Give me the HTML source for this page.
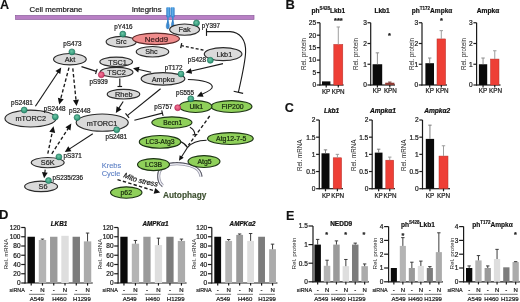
<!DOCTYPE html>
<html><head><meta charset="utf-8"><style>
html,body{margin:0;padding:0;background:#fff;width:520px;height:302px;overflow:hidden}
svg{display:block;font-family:'Liberation Sans', Arial, sans-serif}
</style></head><body>
<svg width="520" height="302" viewBox="0 0 520 302">
<defs><radialGradient id="gt" cx="0.45" cy="0.4" r="0.6"><stop offset="0" stop-color="#6cc7a6"/><stop offset="1" stop-color="#2a8f70"/></radialGradient>
<linearGradient id="gi" x1="0" x2="1" y1="0" y2="0"><stop offset="0" stop-color="#2c78c4"/><stop offset="0.5" stop-color="#5fb0ec"/><stop offset="1" stop-color="#2c78c4"/></linearGradient>
<radialGradient id="gp" cx="0.45" cy="0.4" r="0.6"><stop offset="0" stop-color="#f27a98"/><stop offset="1" stop-color="#d23a66"/></radialGradient></defs>
<rect width="520" height="302" fill="#ffffff"/>
<text x="0.00" y="9.30" font-size="12.6" text-anchor="start" font-weight="bold" font-style="normal" fill="#111" stroke="#111" stroke-width="0.1" >A</text>
<text x="29.60" y="12.20" font-size="7.8" text-anchor="start" font-weight="normal" font-style="normal" fill="#1c1c1c" stroke="#1c1c1c" stroke-width="0.22" >Cell membrane</text>
<text x="131.70" y="12.20" font-size="7.8" text-anchor="start" font-weight="normal" font-style="normal" fill="#1c1c1c" stroke="#1c1c1c" stroke-width="0.22" >Integrins</text>
<rect x="15.6" y="15.5" width="238.4" height="3.9" fill="#b87fc4" stroke="#8a5c9c" stroke-width="0.7"/>
<rect x="166.3" y="7.2" width="3.9" height="10.2" rx="0.9" fill="url(#gi)"/>
<rect x="170.6" y="7.2" width="4.0" height="10.2" rx="0.9" fill="url(#gi)"/>
<rect x="167.1" y="16" width="1.6" height="7" fill="#3a8ad2"/>
<rect x="172.0" y="16" width="1.6" height="7" fill="#3a8ad2"/>
<path d="M 167.8 21.2 C 169.9 24 169.8 28.9 167.7 28.9 C 165.6 28.9 165.8 24 167.8 21.2 Z" fill="#3a8ad2" stroke="#2a6fb0" stroke-width="0.4"/>
<path d="M 172.6 20.8 C 174.4 23.4 174.4 28.0 172.6 28.0 C 170.8 28.0 170.9 23.4 172.6 20.8 Z" fill="#3a8ad2" stroke="#2a6fb0" stroke-width="0.4"/>
<path d="M 206.5 31.6 L 230 31.6 C 240 32 246 40 245.6 52 C 245.3 62 242 76 238.4 92.3" fill="none" stroke="#1a1a1a" stroke-width="1.1"/>
<line x1="206.5" y1="28.4" x2="206.5" y2="35.9" stroke="#1a1a1a" stroke-width="1.15"/>
<line x1="233.7" y1="91.25" x2="243.1" y2="93.35" stroke="#1a1a1a" stroke-width="1.1"/>
<line x1="203.5" y1="50.1" x2="181.2" y2="45.6" stroke="#1a1a1a" stroke-width="1.3" stroke-dasharray="3.0,2.0"/>
<line x1="181.71429689342432" y1="43.051373172586054" x2="180.68570310657566" y2="48.14862682741395" stroke="#1a1a1a" stroke-width="1.3"/>
<line x1="223" y1="63.6" x2="190.27240240800117" y2="71.30061119811738" stroke="#1a1a1a" stroke-width="1.15"/>
<polygon points="185.60,72.40 190.78,68.20 192.10,73.85" fill="#111"/>
<line x1="151.2" y1="72.2" x2="137.69345158757156" y2="69.30573962590819" stroke="#1a1a1a" stroke-width="1.15"/>
<polygon points="133.00,68.30 139.47,66.72 138.26,72.39" fill="#111"/>
<line x1="81.5" y1="66.6" x2="96.4" y2="71.4" stroke="#1a1a1a" stroke-width="1.15"/>
<line x1="95.57210044699657" y1="73.96993819578151" x2="97.22789955300344" y2="68.8300618042185" stroke="#1a1a1a" stroke-width="1.15"/>
<line x1="119.8" y1="78.4" x2="119.8" y2="86.5" stroke="#1a1a1a" stroke-width="1.15"/>
<line x1="117.5" y1="86.5" x2="122.1" y2="86.5" stroke="#1a1a1a" stroke-width="1.15"/>
<line x1="123.2" y1="101.5" x2="118.41346084073321" y2="108.87385762373533" stroke="#1a1a1a" stroke-width="1.15"/>
<polygon points="115.80,112.90 116.63,106.29 121.50,109.45" fill="#111"/>
<line x1="160.6" y1="88.8" x2="127.3" y2="115.6" stroke="#1a1a1a" stroke-width="1.15"/>
<line x1="125.48177314602235" y1="113.34078528964717" x2="129.11822685397763" y2="117.85921471035282" stroke="#1a1a1a" stroke-width="1.15"/>
<line x1="134.4" y1="120.2" x2="162.4" y2="113.1" stroke="#1a1a1a" stroke-width="1.1"/>
<line x1="163.08821895515405" y1="115.81410292173429" x2="161.71178104484596" y2="110.3858970782657" stroke="#1a1a1a" stroke-width="1.1"/>
<line x1="92.8" y1="133.8" x2="68.82452935824305" y2="149.384055917142" stroke="#1a1a1a" stroke-width="1.15"/>
<polygon points="64.80,152.00 68.25,146.30 71.41,151.16" fill="#111"/>
<line x1="45.2" y1="169.6" x2="44.70210294666902" y2="173.5379130581632" stroke="#1a1a1a" stroke-width="1.15"/>
<polygon points="44.10,178.30 41.98,171.98 47.73,172.71" fill="#111"/>
<line x1="35.4" y1="106.2" x2="58.537439058118906" y2="71.49384141282165" stroke="#1a1a1a" stroke-width="1.15"/>
<polygon points="61.20,67.50 60.28,74.10 55.46,70.88" fill="#111"/>
<line x1="69.0" y1="67.6" x2="60.47638538642816" y2="99.60704263055547" stroke="#1a1a1a" stroke-width="1.35" stroke-dasharray="3.4,2.2"/>
<polygon points="59.20,104.40 57.90,97.64 63.69,99.18" fill="#111"/>
<line x1="72.8" y1="68.4" x2="76.10126395298956" y2="101.06513806115993" stroke="#1a1a1a" stroke-width="1.35" stroke-dasharray="3.4,2.2"/>
<polygon points="76.60,106.00 72.99,100.13 78.96,99.53" fill="#111"/>
<line x1="47.8" y1="153.6" x2="52.48980240466775" y2="131.05603756352698" stroke="#1a1a1a" stroke-width="1.35" stroke-dasharray="3.4,2.2"/>
<polygon points="53.50,126.20 55.17,132.88 49.30,131.66" fill="#111"/>
<line x1="51.8" y1="153.8" x2="68.60947955836633" y2="127.76685729935059" stroke="#1a1a1a" stroke-width="1.35" stroke-dasharray="3.4,2.2"/>
<polygon points="71.30,123.60 70.46,130.44 65.42,127.18" fill="#111"/>
<path d="M 187.9 79.5 C 200 80 212 82 212.3 86.9 C 212.5 90 206 92.5 201 94.6" fill="none" stroke="#1a1a1a" stroke-width="1.1"/>
<polygon points="196.90,96.50 201.27,91.47 203.56,96.80" fill="#111"/>
<path d="M 189.9 127.2 Q 194.6 129.5 194.9 134.6" fill="none" stroke="#1a1a1a" stroke-width="1.1"/>
<line x1="192.6" y1="134.9" x2="197.4" y2="134.5" stroke="#1a1a1a" stroke-width="1.1"/>
<path d="M 179.9 141.2 Q 185.2 143.5 187.6 147.6" fill="none" stroke="#1a1a1a" stroke-width="1.1"/>
<path d="M 206.6 140.2 Q 193 140.5 187.4 147.6" fill="none" stroke="#1a1a1a" stroke-width="1.1"/>
<line x1="209.7" y1="116.0" x2="188.4" y2="145.4" stroke="#1a1a1a" stroke-width="1.35" stroke-dasharray="3.4,2.2"/>
<line x1="187.6" y1="147.2" x2="181.13784218922157" y2="157.41922630541703" stroke="#1a1a1a" stroke-width="1.1"/>
<polygon points="179.00,160.80 179.64,155.29 183.70,157.86" fill="#111"/>
<ellipse cx="121.2" cy="41.7" rx="15.05" ry="5.35" fill="#dadada" stroke="#2b2b2b" stroke-width="1.15"/>
<text x="121.20" y="44.29" font-size="7.2" text-anchor="middle" font-weight="normal" font-style="normal" fill="#2a2a2a" stroke="#2a2a2a" stroke-width="0.22" >Src</text>
<ellipse cx="152.5" cy="51.7" rx="16.25" ry="5.25" fill="#dadada" stroke="#2b2b2b" stroke-width="1.15"/>
<text x="151.50" y="54.29" font-size="7.2" text-anchor="middle" font-weight="normal" font-style="normal" fill="#2a2a2a" stroke="#2a2a2a" stroke-width="0.22" >Shc</text>
<ellipse cx="156.0" cy="38.8" rx="23.45" ry="5.75" fill="#f08c8c" stroke="#5a2828" stroke-width="1.15"/>
<text x="156.50" y="41.74" font-size="7.9" text-anchor="middle" font-weight="normal" font-style="normal" fill="#3a1c1c" stroke="#3a1c1c" stroke-width="0.22" >Nedd9</text>
<ellipse cx="184.6" cy="29.6" rx="14.95" ry="5.65" fill="#dadada" stroke="#2b2b2b" stroke-width="1.15"/>
<text x="184.60" y="32.23" font-size="7.3" text-anchor="middle" font-weight="normal" font-style="normal" fill="#2a2a2a" stroke="#2a2a2a" stroke-width="0.22" >Fak</text>
<ellipse cx="223.1" cy="54.1" rx="18.85" ry="6.55" fill="#dadada" stroke="#2b2b2b" stroke-width="1.15"/>
<text x="224.30" y="56.73" font-size="7.3" text-anchor="middle" font-weight="normal" font-style="normal" fill="#2a2a2a" stroke="#2a2a2a" stroke-width="0.22" >Lkb1</text>
<ellipse cx="69.9" cy="59.2" rx="16.35" ry="5.70" fill="#dadada" stroke="#2b2b2b" stroke-width="1.15"/>
<text x="69.90" y="61.83" font-size="7.3" text-anchor="middle" font-weight="normal" font-style="normal" fill="#2a2a2a" stroke="#2a2a2a" stroke-width="0.22" >Akt</text>
<ellipse cx="116.5" cy="72.3" rx="16.45" ry="4.95" fill="#dadada" stroke="#2b2b2b" stroke-width="1.15"/>
<text x="116.60" y="74.93" font-size="7.3" text-anchor="middle" font-weight="normal" font-style="normal" fill="#2a2a2a" stroke="#2a2a2a" stroke-width="0.22" >TSC2</text>
<ellipse cx="116.2" cy="61.8" rx="16.35" ry="4.75" fill="#dadada" stroke="#2b2b2b" stroke-width="1.15"/>
<text x="117.60" y="64.73" font-size="7.3" text-anchor="middle" font-weight="normal" font-style="normal" fill="#2a2a2a" stroke="#2a2a2a" stroke-width="0.22" >TSC1</text>
<ellipse cx="163.0" cy="78.8" rx="21.85" ry="6.25" fill="#dadada" stroke="#2b2b2b" stroke-width="1.15"/>
<text x="163.20" y="82.23" font-size="7.3" text-anchor="middle" font-weight="normal" font-style="normal" fill="#2a2a2a" stroke="#2a2a2a" stroke-width="0.22" >Ampkα</text>
<ellipse cx="123.5" cy="94.2" rx="16.25" ry="4.85" fill="#dadada" stroke="#2b2b2b" stroke-width="1.15"/>
<text x="123.80" y="96.83" font-size="7.3" text-anchor="middle" font-weight="normal" font-style="normal" fill="#2a2a2a" stroke="#2a2a2a" stroke-width="0.22" >Rheb</text>
<ellipse cx="30.5" cy="118.5" rx="25.55" ry="8.45" fill="#dadada" stroke="#2b2b2b" stroke-width="1.15"/>
<text x="30.80" y="121.13" font-size="7.3" text-anchor="middle" font-weight="normal" font-style="normal" fill="#2a2a2a" stroke="#2a2a2a" stroke-width="0.22" >mTORC2</text>
<ellipse cx="102.2" cy="122.6" rx="26.05" ry="8.65" fill="#dadada" stroke="#2b2b2b" stroke-width="1.15"/>
<text x="102.10" y="125.83" font-size="7.3" text-anchor="middle" font-weight="normal" font-style="normal" fill="#2a2a2a" stroke="#2a2a2a" stroke-width="0.22" >mTORC1</text>
<ellipse cx="47.7" cy="162.6" rx="16.45" ry="5.15" fill="#dadada" stroke="#2b2b2b" stroke-width="1.15"/>
<text x="47.70" y="165.23" font-size="7.3" text-anchor="middle" font-weight="normal" font-style="normal" fill="#2a2a2a" stroke="#2a2a2a" stroke-width="0.22" >S6K</text>
<ellipse cx="41.1" cy="186.4" rx="16.45" ry="5.25" fill="#dadada" stroke="#2b2b2b" stroke-width="1.15"/>
<text x="43.00" y="189.03" font-size="7.3" text-anchor="middle" font-weight="normal" font-style="normal" fill="#2a2a2a" stroke="#2a2a2a" stroke-width="0.22" >S6</text>
<ellipse cx="231.5" cy="106.5" rx="20.45" ry="5.95" fill="#8fd05a" stroke="#1c3314" stroke-width="1.15"/>
<text x="232.50" y="108.98" font-size="6.9" text-anchor="middle" font-weight="normal" font-style="normal" fill="#17290e" stroke="#17290e" stroke-width="0.22" >FIP200</text>
<ellipse cx="195.6" cy="106.5" rx="16.35" ry="5.95" fill="#8fd05a" stroke="#1c3314" stroke-width="1.15"/>
<text x="196.30" y="108.98" font-size="6.9" text-anchor="middle" font-weight="normal" font-style="normal" fill="#17290e" stroke="#17290e" stroke-width="0.22" >Ulk1</text>
<ellipse cx="171.9" cy="122.5" rx="20.05" ry="5.70" fill="#8fd05a" stroke="#1c3314" stroke-width="1.15"/>
<text x="172.80" y="124.91" font-size="6.7" text-anchor="middle" font-weight="normal" font-style="normal" fill="#17290e" stroke="#17290e" stroke-width="0.22" >Becn1</text>
<ellipse cx="160.0" cy="141.9" rx="20.70" ry="6.35" fill="#8fd05a" stroke="#1c3314" stroke-width="1.15"/>
<text x="160.00" y="144.38" font-size="6.9" text-anchor="middle" font-weight="normal" font-style="normal" fill="#17290e" stroke="#17290e" stroke-width="0.22" >LC3-Atg3</text>
<ellipse cx="230.4" cy="138.5" rx="22.85" ry="5.95" fill="#8fd05a" stroke="#1c3314" stroke-width="1.15"/>
<text x="231.20" y="140.98" font-size="6.9" text-anchor="middle" font-weight="normal" font-style="normal" fill="#17290e" stroke="#17290e" stroke-width="0.22" >Atg12-7-5</text>
<path d="M 162.9 185.7 C 158.5 183 158.2 176 159.3 172 C 161.5 166 168 163.7 177 163.7 C 186 163.7 195 166.5 198.5 170.5 C 200 172.5 200.8 174.5 200.9 176.6" fill="none" stroke="#9898a8" stroke-width="3.0"/>
<path d="M 162.9 185.7 C 158.5 183 158.2 176 159.3 172 C 161.5 166 168 163.7 177 163.7 C 186 163.7 195 166.5 198.5 170.5 C 200 172.5 200.8 174.5 200.9 176.6" fill="none" stroke="#eeeef5" stroke-width="1.5"/>
<path d="M 162.30 186.56 L 161.63 186.09 L 160.97 185.52 L 160.39 184.90 L 159.87 184.22 L 159.42 183.51 L 159.03 182.76 L 158.69 181.98 L 158.41 181.18 L 158.19 180.36 L 158.01 179.53 L 157.87 178.70 L 157.78 177.86 L 157.73 177.03 L 157.71 176.21 L 157.73 175.40 L 157.78 174.61 L 157.87 173.84 L 157.98 173.10 L 158.12 172.39 L 158.31 171.66 L 158.71 170.68 L 159.18 169.79 L 159.71 168.94 L 160.32 168.16 L 160.99 167.43 L 161.71 166.76 L 162.50 166.15 L 163.34 165.59 L 164.24 165.09 L 165.18 164.64 L 166.17 164.24 L 167.21 163.89 L 168.29 163.59 L 169.41 163.33 L 170.58 163.12 L 171.79 162.95 L 173.03 162.81 L 174.32 162.72 L 175.64 162.67 L 177.00 162.65 L 178.38 162.67 L 179.76 162.73 L 181.13 162.84 L 182.48 162.98 L 183.82 163.16 L 185.14 163.38 L 186.43 163.63 L 187.70 163.92 L 188.93 164.24 L 190.13 164.60 L 191.29 164.98 L 192.40 165.40 L 193.47 165.85 L 194.48 166.33 L 195.44 166.83 L 196.34 167.37 L 197.18 167.93 L 197.96 168.53 L 198.66 169.15 L 199.29 169.81 L 199.57 170.19 L 199.80 170.51 L 200.01 170.83 L 200.21 171.15 L 200.40 171.48 L 200.59 171.81 L 200.76 172.13 L 200.92 172.46 L 201.06 172.79 L 201.20 173.13 L 201.33 173.46 L 201.44 173.80 L 201.55 174.14 L 201.64 174.48 L 201.72 174.82 L 201.79 175.16 L 201.85 175.51 L 201.89 175.85 L 201.93 176.20 L 201.95 176.53" fill="none" stroke="#3a3a44" stroke-width="0.9"/>
<ellipse cx="153.5" cy="164.6" rx="15.95" ry="6.05" fill="#8fd05a" stroke="#1c3314" stroke-width="1.15"/>
<text x="153.50" y="167.08" font-size="6.9" text-anchor="middle" font-weight="normal" font-style="normal" fill="#17290e" stroke="#17290e" stroke-width="0.22" >LC3B</text>
<ellipse cx="204.0" cy="161.5" rx="15.95" ry="5.95" fill="#8fd05a" stroke="#1c3314" stroke-width="1.15"/>
<text x="204.50" y="163.98" font-size="6.9" text-anchor="middle" font-weight="normal" font-style="normal" fill="#17290e" stroke="#17290e" stroke-width="0.22" >Atg5</text>
<ellipse cx="126.25" cy="192.5" rx="15.70" ry="5.70" fill="#8fd05a" stroke="#1c3314" stroke-width="1.15"/>
<text x="126.25" y="194.98" font-size="6.9" text-anchor="middle" font-weight="normal" font-style="normal" fill="#17290e" stroke="#17290e" stroke-width="0.22" >p62</text>
<line x1="117.5" y1="179.6" x2="155.6080956311133" y2="191.2019963279736" stroke="#1a1a1a" stroke-width="1.35" stroke-dasharray="3.4,2.2"/>
<polygon points="160.20,192.60 153.62,193.63 155.30,188.08" fill="#111"/>
<circle cx="122.8" cy="34.1" r="3.0" fill="url(#gt)" stroke="#1d6f57" stroke-width="0.6"/>
<circle cx="196.5" cy="23.0" r="3.0" fill="url(#gt)" stroke="#1d6f57" stroke-width="0.6"/>
<circle cx="71.9" cy="51.9" r="3.0" fill="url(#gt)" stroke="#1d6f57" stroke-width="0.6"/>
<circle cx="210.3" cy="60.3" r="3.0" fill="url(#gt)" stroke="#1d6f57" stroke-width="0.6"/>
<circle cx="181.0" cy="74.0" r="3.0" fill="url(#gt)" stroke="#1d6f57" stroke-width="0.6"/>
<circle cx="24.2" cy="110.0" r="3.0" fill="url(#gt)" stroke="#1d6f57" stroke-width="0.6"/>
<circle cx="55.3" cy="116.9" r="3.0" fill="url(#gt)" stroke="#1d6f57" stroke-width="0.6"/>
<circle cx="77.1" cy="117.5" r="3.0" fill="url(#gt)" stroke="#1d6f57" stroke-width="0.6"/>
<circle cx="116.7" cy="129.8" r="3.0" fill="url(#gt)" stroke="#1d6f57" stroke-width="0.6"/>
<circle cx="58.9" cy="156.9" r="3.0" fill="url(#gt)" stroke="#1d6f57" stroke-width="0.6"/>
<circle cx="48.5" cy="180.6" r="3.0" fill="url(#gt)" stroke="#1d6f57" stroke-width="0.6"/>
<circle cx="190.8" cy="98.8" r="3.0" fill="url(#gt)" stroke="#1d6f57" stroke-width="0.6"/>
<circle cx="101.3" cy="74.8" r="3.0" fill="url(#gp)" stroke="#a8244f" stroke-width="0.6"/>
<circle cx="177.7" cy="107.7" r="3.0" fill="url(#gp)" stroke="#a8244f" stroke-width="0.6"/>
<text x="114.20" y="29.17" font-size="6.3" text-anchor="start" font-weight="normal" font-style="normal" fill="#1c1c1c" stroke="#1c1c1c" stroke-width="0.22" >pY416</text>
<text x="201.80" y="27.67" font-size="6.3" text-anchor="start" font-weight="normal" font-style="normal" fill="#1c1c1c" stroke="#1c1c1c" stroke-width="0.22" >pY397</text>
<text x="63.20" y="46.27" font-size="6.3" text-anchor="start" font-weight="normal" font-style="normal" fill="#1c1c1c" stroke="#1c1c1c" stroke-width="0.22" >pS473</text>
<text x="187.70" y="62.27" font-size="6.3" text-anchor="start" font-weight="normal" font-style="normal" fill="#1c1c1c" stroke="#1c1c1c" stroke-width="0.22" >pS428</text>
<text x="164.70" y="69.77" font-size="6.3" text-anchor="start" font-weight="normal" font-style="normal" fill="#1c1c1c" stroke="#1c1c1c" stroke-width="0.22" >pT172</text>
<text x="89.50" y="83.87" font-size="6.3" text-anchor="start" font-weight="normal" font-style="normal" fill="#1c1c1c" stroke="#1c1c1c" stroke-width="0.22" >pS939</text>
<text x="11.10" y="104.87" font-size="6.3" text-anchor="start" font-weight="normal" font-style="normal" fill="#1c1c1c" stroke="#1c1c1c" stroke-width="0.22" >pS2481</text>
<text x="43.80" y="110.57" font-size="6.3" text-anchor="start" font-weight="normal" font-style="normal" fill="#1c1c1c" stroke="#1c1c1c" stroke-width="0.22" >pS2448</text>
<text x="68.90" y="112.97" font-size="6.3" text-anchor="start" font-weight="normal" font-style="normal" fill="#1c1c1c" stroke="#1c1c1c" stroke-width="0.22" >pS2448</text>
<text x="105.40" y="138.97" font-size="6.3" text-anchor="start" font-weight="normal" font-style="normal" fill="#1c1c1c" stroke="#1c1c1c" stroke-width="0.22" >pS2481</text>
<text x="63.60" y="157.57" font-size="6.3" text-anchor="start" font-weight="normal" font-style="normal" fill="#1c1c1c" stroke="#1c1c1c" stroke-width="0.22" >pS371</text>
<text x="52.50" y="180.07" font-size="6.3" text-anchor="start" font-weight="normal" font-style="normal" fill="#1c1c1c" stroke="#1c1c1c" stroke-width="0.22" >pS235/236</text>
<text x="175.90" y="94.77" font-size="6.3" text-anchor="start" font-weight="normal" font-style="normal" fill="#1c1c1c" stroke="#1c1c1c" stroke-width="0.22" >pS555</text>
<text x="154.20" y="109.27" font-size="6.3" text-anchor="start" font-weight="normal" font-style="normal" fill="#1c1c1c" stroke="#1c1c1c" stroke-width="0.22" >pS757</text>
<text x="101.70" y="167.60" font-size="7.5" text-anchor="start" font-weight="normal" font-style="normal" fill="#5b7fc4" stroke="#5b7fc4" stroke-width="0.1" >Krebs</text>
<text x="101.70" y="175.60" font-size="7.5" text-anchor="start" font-weight="normal" font-style="normal" fill="#5b7fc4" stroke="#5b7fc4" stroke-width="0.1" >Cycle</text>
<path id="mito" d="M 123.2 177.0 C 131 180.8 145 185.2 160 186.8" fill="none"/>
<text font-size="7.4" font-style="italic" fill="#1c1c1c" stroke="#1c1c1c" stroke-width="0.22"><textPath href="#mito">Mito stress</textPath></text>
<text x="163.00" y="198.40" font-size="8.3" text-anchor="start" font-weight="bold" font-style="normal" fill="#3d5030" stroke="#3d5030" stroke-width="0.15" >Autophagy</text>
<text x="285.40" y="9.30" font-size="13.0" text-anchor="start" font-weight="bold" font-style="normal" fill="#111" stroke="#111" stroke-width="0.1" >B</text>
<text x="311.40" y="12.88" font-size="6.6" font-weight="bold" font-style="normal" fill="#111" stroke="#111" stroke-width="0.15">ph<tspan font-size="4.49" dy="-2.77">S428</tspan><tspan dy="2.77">Lkb1</tspan></text>
<text x="338.40" y="23.20" font-size="7.4" text-anchor="middle" font-weight="bold" font-style="normal" fill="#1c1c1c" stroke="#1c1c1c" stroke-width="0.22" >***</text>
<line x1="320.0" y1="22.749999999999993" x2="320.0" y2="85.5" stroke="#1a1a1a" stroke-width="1.2"/>
<line x1="319.5" y1="85.0" x2="343.6" y2="85.0" stroke="#1a1a1a" stroke-width="1.2"/>
<line x1="316.8" y1="85.0" x2="320.0" y2="85.0" stroke="#1a1a1a" stroke-width="1.2"/>
<text x="316.10" y="87.38" font-size="6.6" text-anchor="end" font-weight="normal" font-style="normal" fill="#1c1c1c" stroke="#1c1c1c" stroke-width="0.22" >0</text>
<line x1="316.8" y1="72.55" x2="320.0" y2="72.55" stroke="#1a1a1a" stroke-width="1.2"/>
<text x="316.10" y="74.93" font-size="6.6" text-anchor="end" font-weight="normal" font-style="normal" fill="#1c1c1c" stroke="#1c1c1c" stroke-width="0.22" >5</text>
<line x1="316.8" y1="60.099999999999994" x2="320.0" y2="60.099999999999994" stroke="#1a1a1a" stroke-width="1.2"/>
<text x="316.10" y="62.48" font-size="6.6" text-anchor="end" font-weight="normal" font-style="normal" fill="#1c1c1c" stroke="#1c1c1c" stroke-width="0.22" >10</text>
<line x1="316.8" y1="47.65" x2="320.0" y2="47.65" stroke="#1a1a1a" stroke-width="1.2"/>
<text x="316.10" y="50.03" font-size="6.6" text-anchor="end" font-weight="normal" font-style="normal" fill="#1c1c1c" stroke="#1c1c1c" stroke-width="0.22" >15</text>
<line x1="316.8" y1="35.199999999999996" x2="320.0" y2="35.199999999999996" stroke="#1a1a1a" stroke-width="1.2"/>
<text x="316.10" y="37.58" font-size="6.6" text-anchor="end" font-weight="normal" font-style="normal" fill="#1c1c1c" stroke="#1c1c1c" stroke-width="0.22" >20</text>
<line x1="316.8" y1="22.749999999999993" x2="320.0" y2="22.749999999999993" stroke="#1a1a1a" stroke-width="1.2"/>
<text x="316.10" y="25.13" font-size="6.6" text-anchor="end" font-weight="normal" font-style="normal" fill="#1c1c1c" stroke="#1c1c1c" stroke-width="0.22" >25</text>
<rect x="322.00" y="81.39" width="8.40" height="3.61" fill="#0a0a0a"/>
<line x1="326.2" y1="85.0" x2="326.2" y2="87.6" stroke="#1a1a1a" stroke-width="1.2"/>
<rect x="333.80" y="44.41" width="9.00" height="40.59" fill="#ee3f36" stroke="#b5302a" stroke-width="0.5"/>
<line x1="338.3" y1="26.98299999999999" x2="338.3" y2="44.413" stroke="#999" stroke-width="0.95"/>
<line x1="336.6" y1="26.98299999999999" x2="340.0" y2="26.98299999999999" stroke="#999" stroke-width="0.95"/>
<line x1="338.3" y1="85.0" x2="338.3" y2="87.6" stroke="#1a1a1a" stroke-width="1.2"/>
<text x="0" y="0" font-size="6.3" text-anchor="middle" fill="#222" transform="translate(306.27,54.00) rotate(-90)">Rel. protein</text>
<text x="326.10" y="93.60" font-size="6.3" text-anchor="middle" font-weight="normal" font-style="normal" fill="#1c1c1c" stroke="#1c1c1c" stroke-width="0.22" >KP</text>
<text x="338.20" y="93.60" font-size="6.3" text-anchor="middle" font-weight="normal" font-style="normal" fill="#1c1c1c" stroke="#1c1c1c" stroke-width="0.22" >KPN</text>
<text x="382.10" y="13.20" font-size="6.6" text-anchor="middle" font-weight="bold" font-style="normal" fill="#111" stroke="#111" stroke-width="0.22" >Lkb1</text>
<text x="389.40" y="38.20" font-size="7.4" text-anchor="middle" font-weight="bold" font-style="normal" fill="#1c1c1c" stroke="#1c1c1c" stroke-width="0.22" >*</text>
<line x1="370.7" y1="22.75" x2="370.7" y2="85.5" stroke="#1a1a1a" stroke-width="1.2"/>
<line x1="370.2" y1="85.0" x2="395.0" y2="85.0" stroke="#1a1a1a" stroke-width="1.2"/>
<line x1="367.5" y1="85.0" x2="370.7" y2="85.0" stroke="#1a1a1a" stroke-width="1.2"/>
<text x="366.80" y="87.38" font-size="6.6" text-anchor="end" font-weight="normal" font-style="normal" fill="#1c1c1c" stroke="#1c1c1c" stroke-width="0.22" >0</text>
<line x1="367.5" y1="64.25" x2="370.7" y2="64.25" stroke="#1a1a1a" stroke-width="1.2"/>
<text x="366.80" y="66.63" font-size="6.6" text-anchor="end" font-weight="normal" font-style="normal" fill="#1c1c1c" stroke="#1c1c1c" stroke-width="0.22" >1</text>
<line x1="367.5" y1="43.5" x2="370.7" y2="43.5" stroke="#1a1a1a" stroke-width="1.2"/>
<text x="366.80" y="45.88" font-size="6.6" text-anchor="end" font-weight="normal" font-style="normal" fill="#1c1c1c" stroke="#1c1c1c" stroke-width="0.22" >2</text>
<line x1="367.5" y1="22.75" x2="370.7" y2="22.75" stroke="#1a1a1a" stroke-width="1.2"/>
<text x="366.80" y="25.13" font-size="6.6" text-anchor="end" font-weight="normal" font-style="normal" fill="#1c1c1c" stroke="#1c1c1c" stroke-width="0.22" >3</text>
<rect x="372.60" y="64.25" width="9.60" height="20.75" fill="#0a0a0a"/>
<line x1="377.4" y1="52.8375" x2="377.4" y2="64.25" stroke="#888" stroke-width="0.95"/>
<line x1="375.7" y1="52.8375" x2="379.09999999999997" y2="52.8375" stroke="#888" stroke-width="0.95"/>
<line x1="377.4" y1="85.0" x2="377.4" y2="87.6" stroke="#1a1a1a" stroke-width="1.2"/>
<rect x="385.20" y="82.72" width="9.20" height="2.28" fill="#8e3b34"/>
<line x1="389.79999999999995" y1="82.095" x2="389.79999999999995" y2="82.7175" stroke="#6a2a26" stroke-width="0.95"/>
<line x1="388.09999999999997" y1="82.095" x2="391.49999999999994" y2="82.095" stroke="#6a2a26" stroke-width="0.95"/>
<line x1="389.79999999999995" y1="85.0" x2="389.79999999999995" y2="87.6" stroke="#1a1a1a" stroke-width="1.2"/>
<text x="0" y="0" font-size="6.3" text-anchor="middle" fill="#222" transform="translate(357.77,54.00) rotate(-90)">Rel. protein</text>
<text x="377.00" y="93.20" font-size="6.3" text-anchor="middle" font-weight="normal" font-style="normal" fill="#1c1c1c" stroke="#1c1c1c" stroke-width="0.22" >KP</text>
<text x="390.40" y="93.20" font-size="6.3" text-anchor="middle" font-weight="normal" font-style="normal" fill="#1c1c1c" stroke="#1c1c1c" stroke-width="0.22" >KPN</text>
<text x="411.80" y="12.88" font-size="6.6" font-weight="bold" font-style="normal" fill="#111" stroke="#111" stroke-width="0.15">ph<tspan font-size="4.49" dy="-2.77">T172</tspan><tspan dy="2.77">Ampkα</tspan></text>
<text x="441.50" y="22.60" font-size="7.4" text-anchor="middle" font-weight="bold" font-style="normal" fill="#1c1c1c" stroke="#1c1c1c" stroke-width="0.22" >*</text>
<line x1="422.0" y1="22.75" x2="422.0" y2="85.5" stroke="#1a1a1a" stroke-width="1.2"/>
<line x1="421.5" y1="85.0" x2="447.0" y2="85.0" stroke="#1a1a1a" stroke-width="1.2"/>
<line x1="418.8" y1="85.0" x2="422.0" y2="85.0" stroke="#1a1a1a" stroke-width="1.2"/>
<text x="418.10" y="87.38" font-size="6.6" text-anchor="end" font-weight="normal" font-style="normal" fill="#1c1c1c" stroke="#1c1c1c" stroke-width="0.22" >0</text>
<line x1="418.8" y1="64.25" x2="422.0" y2="64.25" stroke="#1a1a1a" stroke-width="1.2"/>
<text x="418.10" y="66.63" font-size="6.6" text-anchor="end" font-weight="normal" font-style="normal" fill="#1c1c1c" stroke="#1c1c1c" stroke-width="0.22" >1</text>
<line x1="418.8" y1="43.5" x2="422.0" y2="43.5" stroke="#1a1a1a" stroke-width="1.2"/>
<text x="418.10" y="45.88" font-size="6.6" text-anchor="end" font-weight="normal" font-style="normal" fill="#1c1c1c" stroke="#1c1c1c" stroke-width="0.22" >2</text>
<line x1="418.8" y1="22.75" x2="422.0" y2="22.75" stroke="#1a1a1a" stroke-width="1.2"/>
<text x="418.10" y="25.13" font-size="6.6" text-anchor="end" font-weight="normal" font-style="normal" fill="#1c1c1c" stroke="#1c1c1c" stroke-width="0.22" >3</text>
<rect x="425.40" y="63.21" width="8.60" height="21.79" fill="#0a0a0a"/>
<line x1="429.7" y1="58.025" x2="429.7" y2="63.2125" stroke="#888" stroke-width="0.95"/>
<line x1="428.0" y1="58.025" x2="431.4" y2="58.025" stroke="#888" stroke-width="0.95"/>
<line x1="429.7" y1="85.0" x2="429.7" y2="87.6" stroke="#1a1a1a" stroke-width="1.2"/>
<rect x="437.00" y="38.93" width="8.60" height="46.07" fill="#ee3f36" stroke="#b5302a" stroke-width="0.5"/>
<line x1="441.3" y1="30.634999999999998" x2="441.3" y2="38.934999999999995" stroke="#999" stroke-width="0.95"/>
<line x1="439.6" y1="30.634999999999998" x2="443.0" y2="30.634999999999998" stroke="#999" stroke-width="0.95"/>
<line x1="441.3" y1="85.0" x2="441.3" y2="87.6" stroke="#1a1a1a" stroke-width="1.2"/>
<text x="0" y="0" font-size="6.3" text-anchor="middle" fill="#222" transform="translate(413.77,54.00) rotate(-90)">Rel. protein</text>
<text x="429.70" y="93.20" font-size="6.3" text-anchor="middle" font-weight="normal" font-style="normal" fill="#1c1c1c" stroke="#1c1c1c" stroke-width="0.22" >KP</text>
<text x="442.20" y="93.20" font-size="6.3" text-anchor="middle" font-weight="normal" font-style="normal" fill="#1c1c1c" stroke="#1c1c1c" stroke-width="0.22" >KPN</text>
<text x="488.00" y="13.00" font-size="6.6" text-anchor="middle" font-weight="bold" font-style="normal" fill="#111" stroke="#111" stroke-width="0.22" >Ampkα</text>
<line x1="476.6" y1="22.75" x2="476.6" y2="85.5" stroke="#1a1a1a" stroke-width="1.2"/>
<line x1="476.1" y1="85.0" x2="500.5" y2="85.0" stroke="#1a1a1a" stroke-width="1.2"/>
<line x1="473.40000000000003" y1="85.0" x2="476.6" y2="85.0" stroke="#1a1a1a" stroke-width="1.2"/>
<text x="472.70" y="87.38" font-size="6.6" text-anchor="end" font-weight="normal" font-style="normal" fill="#1c1c1c" stroke="#1c1c1c" stroke-width="0.22" >0</text>
<line x1="473.40000000000003" y1="64.25" x2="476.6" y2="64.25" stroke="#1a1a1a" stroke-width="1.2"/>
<text x="472.70" y="66.63" font-size="6.6" text-anchor="end" font-weight="normal" font-style="normal" fill="#1c1c1c" stroke="#1c1c1c" stroke-width="0.22" >1</text>
<line x1="473.40000000000003" y1="43.5" x2="476.6" y2="43.5" stroke="#1a1a1a" stroke-width="1.2"/>
<text x="472.70" y="45.88" font-size="6.6" text-anchor="end" font-weight="normal" font-style="normal" fill="#1c1c1c" stroke="#1c1c1c" stroke-width="0.22" >2</text>
<line x1="473.40000000000003" y1="22.75" x2="476.6" y2="22.75" stroke="#1a1a1a" stroke-width="1.2"/>
<text x="472.70" y="25.13" font-size="6.6" text-anchor="end" font-weight="normal" font-style="normal" fill="#1c1c1c" stroke="#1c1c1c" stroke-width="0.22" >3</text>
<rect x="478.90" y="64.25" width="8.30" height="20.75" fill="#0a0a0a"/>
<line x1="483.04999999999995" y1="58.025" x2="483.04999999999995" y2="64.25" stroke="#888" stroke-width="0.95"/>
<line x1="481.34999999999997" y1="58.025" x2="484.74999999999994" y2="58.025" stroke="#888" stroke-width="0.95"/>
<line x1="483.04999999999995" y1="85.0" x2="483.04999999999995" y2="87.6" stroke="#1a1a1a" stroke-width="1.2"/>
<rect x="490.50" y="59.06" width="8.50" height="25.94" fill="#ee3f36" stroke="#b5302a" stroke-width="0.5"/>
<line x1="494.75" y1="50.7625" x2="494.75" y2="59.0625" stroke="#999" stroke-width="0.95"/>
<line x1="493.05" y1="50.7625" x2="496.45" y2="50.7625" stroke="#999" stroke-width="0.95"/>
<line x1="494.75" y1="85.0" x2="494.75" y2="87.6" stroke="#1a1a1a" stroke-width="1.2"/>
<text x="0" y="0" font-size="6.3" text-anchor="middle" fill="#222" transform="translate(465.77,54.00) rotate(-90)">Rel. protein</text>
<text x="483.00" y="93.20" font-size="6.3" text-anchor="middle" font-weight="normal" font-style="normal" fill="#1c1c1c" stroke="#1c1c1c" stroke-width="0.22" >KP</text>
<text x="495.50" y="93.20" font-size="6.3" text-anchor="middle" font-weight="normal" font-style="normal" fill="#1c1c1c" stroke="#1c1c1c" stroke-width="0.22" >KPN</text>
<text x="284.80" y="112.10" font-size="12.6" text-anchor="start" font-weight="bold" font-style="normal" fill="#111" stroke="#111" stroke-width="0.1" >C</text>
<text x="331.60" y="112.60" font-size="6.6" text-anchor="middle" font-weight="bold" font-style="italic" fill="#111" stroke="#111" stroke-width="0.22" >Lkb1</text>
<line x1="319.3" y1="119.99999999999999" x2="319.3" y2="189.2" stroke="#1a1a1a" stroke-width="1.2"/>
<line x1="318.8" y1="188.7" x2="343.0" y2="188.7" stroke="#1a1a1a" stroke-width="1.2"/>
<line x1="316.1" y1="188.7" x2="319.3" y2="188.7" stroke="#1a1a1a" stroke-width="1.2"/>
<text x="315.40" y="191.08" font-size="6.6" text-anchor="end" font-weight="normal" font-style="normal" fill="#1c1c1c" stroke="#1c1c1c" stroke-width="0.22" >0</text>
<line x1="316.1" y1="171.52499999999998" x2="319.3" y2="171.52499999999998" stroke="#1a1a1a" stroke-width="1.2"/>
<text x="315.40" y="173.90" font-size="6.6" text-anchor="end" font-weight="normal" font-style="normal" fill="#1c1c1c" stroke="#1c1c1c" stroke-width="0.22" >0.5</text>
<line x1="316.1" y1="154.35" x2="319.3" y2="154.35" stroke="#1a1a1a" stroke-width="1.2"/>
<text x="315.40" y="156.73" font-size="6.6" text-anchor="end" font-weight="normal" font-style="normal" fill="#1c1c1c" stroke="#1c1c1c" stroke-width="0.22" >1</text>
<line x1="316.1" y1="137.17499999999998" x2="319.3" y2="137.17499999999998" stroke="#1a1a1a" stroke-width="1.2"/>
<text x="315.40" y="139.55" font-size="6.6" text-anchor="end" font-weight="normal" font-style="normal" fill="#1c1c1c" stroke="#1c1c1c" stroke-width="0.22" >1.5</text>
<line x1="316.1" y1="119.99999999999999" x2="319.3" y2="119.99999999999999" stroke="#1a1a1a" stroke-width="1.2"/>
<text x="315.40" y="122.38" font-size="6.6" text-anchor="end" font-weight="normal" font-style="normal" fill="#1c1c1c" stroke="#1c1c1c" stroke-width="0.22" >2</text>
<rect x="321.50" y="153.32" width="8.00" height="35.38" fill="#0a0a0a"/>
<line x1="325.5" y1="149.8845" x2="325.5" y2="153.31949999999998" stroke="#777" stroke-width="0.95"/>
<line x1="323.8" y1="149.8845" x2="327.2" y2="149.8845" stroke="#777" stroke-width="0.95"/>
<line x1="325.5" y1="188.7" x2="325.5" y2="191.29999999999998" stroke="#1a1a1a" stroke-width="1.2"/>
<rect x="333.20" y="157.78" width="8.40" height="30.91" fill="#ee3f36" stroke="#b5302a" stroke-width="0.5"/>
<line x1="337.4" y1="154.35" x2="337.4" y2="157.785" stroke="#999" stroke-width="0.95"/>
<line x1="335.7" y1="154.35" x2="339.09999999999997" y2="154.35" stroke="#999" stroke-width="0.95"/>
<line x1="337.4" y1="188.7" x2="337.4" y2="191.29999999999998" stroke="#1a1a1a" stroke-width="1.2"/>
<text x="0" y="0" font-size="6.3" text-anchor="middle" fill="#222" transform="translate(302.47,155.20) rotate(-90)">Rel. mRNA</text>
<text x="326.10" y="198.40" font-size="6.3" text-anchor="middle" font-weight="normal" font-style="normal" fill="#1c1c1c" stroke="#1c1c1c" stroke-width="0.22" >KP</text>
<text x="337.70" y="198.40" font-size="6.3" text-anchor="middle" font-weight="normal" font-style="normal" fill="#1c1c1c" stroke="#1c1c1c" stroke-width="0.22" >KPN</text>
<text x="383.00" y="112.60" font-size="6.6" text-anchor="middle" font-weight="bold" font-style="italic" fill="#111" stroke="#111" stroke-width="0.22" >Ampkα1</text>
<line x1="372.2" y1="119.99999999999999" x2="372.2" y2="189.2" stroke="#1a1a1a" stroke-width="1.2"/>
<line x1="371.7" y1="188.7" x2="395.0" y2="188.7" stroke="#1a1a1a" stroke-width="1.2"/>
<line x1="369.0" y1="188.7" x2="372.2" y2="188.7" stroke="#1a1a1a" stroke-width="1.2"/>
<text x="368.30" y="191.08" font-size="6.6" text-anchor="end" font-weight="normal" font-style="normal" fill="#1c1c1c" stroke="#1c1c1c" stroke-width="0.22" >0</text>
<line x1="369.0" y1="171.52499999999998" x2="372.2" y2="171.52499999999998" stroke="#1a1a1a" stroke-width="1.2"/>
<text x="368.30" y="173.90" font-size="6.6" text-anchor="end" font-weight="normal" font-style="normal" fill="#1c1c1c" stroke="#1c1c1c" stroke-width="0.22" >0.5</text>
<line x1="369.0" y1="154.35" x2="372.2" y2="154.35" stroke="#1a1a1a" stroke-width="1.2"/>
<text x="368.30" y="156.73" font-size="6.6" text-anchor="end" font-weight="normal" font-style="normal" fill="#1c1c1c" stroke="#1c1c1c" stroke-width="0.22" >1</text>
<line x1="369.0" y1="137.17499999999998" x2="372.2" y2="137.17499999999998" stroke="#1a1a1a" stroke-width="1.2"/>
<text x="368.30" y="139.55" font-size="6.6" text-anchor="end" font-weight="normal" font-style="normal" fill="#1c1c1c" stroke="#1c1c1c" stroke-width="0.22" >1.5</text>
<line x1="369.0" y1="119.99999999999999" x2="372.2" y2="119.99999999999999" stroke="#1a1a1a" stroke-width="1.2"/>
<text x="368.30" y="122.38" font-size="6.6" text-anchor="end" font-weight="normal" font-style="normal" fill="#1c1c1c" stroke="#1c1c1c" stroke-width="0.22" >2</text>
<rect x="374.80" y="152.63" width="7.70" height="36.07" fill="#0a0a0a"/>
<line x1="378.65" y1="149.1975" x2="378.65" y2="152.6325" stroke="#777" stroke-width="0.95"/>
<line x1="376.95" y1="149.1975" x2="380.34999999999997" y2="149.1975" stroke="#777" stroke-width="0.95"/>
<line x1="378.65" y1="188.7" x2="378.65" y2="191.29999999999998" stroke="#1a1a1a" stroke-width="1.2"/>
<rect x="385.80" y="160.19" width="7.90" height="28.51" fill="#ee3f36" stroke="#b5302a" stroke-width="0.5"/>
<line x1="389.75" y1="157.09799999999998" x2="389.75" y2="160.18949999999998" stroke="#999" stroke-width="0.95"/>
<line x1="388.05" y1="157.09799999999998" x2="391.45" y2="157.09799999999998" stroke="#999" stroke-width="0.95"/>
<line x1="389.75" y1="188.7" x2="389.75" y2="191.29999999999998" stroke="#1a1a1a" stroke-width="1.2"/>
<text x="0" y="0" font-size="6.3" text-anchor="middle" fill="#222" transform="translate(355.67,155.20) rotate(-90)">Rel. mRNA</text>
<text x="378.60" y="198.40" font-size="6.3" text-anchor="middle" font-weight="normal" font-style="normal" fill="#1c1c1c" stroke="#1c1c1c" stroke-width="0.22" >KP</text>
<text x="390.00" y="198.40" font-size="6.3" text-anchor="middle" font-weight="normal" font-style="normal" fill="#1c1c1c" stroke="#1c1c1c" stroke-width="0.22" >KPN</text>
<text x="437.20" y="112.60" font-size="6.6" text-anchor="middle" font-weight="bold" font-style="italic" fill="#111" stroke="#111" stroke-width="0.22" >Ampkα2</text>
<line x1="422.5" y1="119.99999999999999" x2="422.5" y2="189.2" stroke="#1a1a1a" stroke-width="1.2"/>
<line x1="422.0" y1="188.7" x2="450.0" y2="188.7" stroke="#1a1a1a" stroke-width="1.2"/>
<line x1="419.3" y1="188.7" x2="422.5" y2="188.7" stroke="#1a1a1a" stroke-width="1.2"/>
<text x="418.60" y="191.08" font-size="6.6" text-anchor="end" font-weight="normal" font-style="normal" fill="#1c1c1c" stroke="#1c1c1c" stroke-width="0.22" >0</text>
<line x1="419.3" y1="171.52499999999998" x2="422.5" y2="171.52499999999998" stroke="#1a1a1a" stroke-width="1.2"/>
<text x="418.60" y="173.90" font-size="6.6" text-anchor="end" font-weight="normal" font-style="normal" fill="#1c1c1c" stroke="#1c1c1c" stroke-width="0.22" >0.5</text>
<line x1="419.3" y1="154.35" x2="422.5" y2="154.35" stroke="#1a1a1a" stroke-width="1.2"/>
<text x="418.60" y="156.73" font-size="6.6" text-anchor="end" font-weight="normal" font-style="normal" fill="#1c1c1c" stroke="#1c1c1c" stroke-width="0.22" >1</text>
<line x1="419.3" y1="137.17499999999998" x2="422.5" y2="137.17499999999998" stroke="#1a1a1a" stroke-width="1.2"/>
<text x="418.60" y="139.55" font-size="6.6" text-anchor="end" font-weight="normal" font-style="normal" fill="#1c1c1c" stroke="#1c1c1c" stroke-width="0.22" >1.5</text>
<line x1="419.3" y1="119.99999999999999" x2="422.5" y2="119.99999999999999" stroke="#1a1a1a" stroke-width="1.2"/>
<text x="418.60" y="122.38" font-size="6.6" text-anchor="end" font-weight="normal" font-style="normal" fill="#1c1c1c" stroke="#1c1c1c" stroke-width="0.22" >2</text>
<rect x="425.80" y="138.89" width="8.30" height="49.81" fill="#0a0a0a"/>
<line x1="429.95000000000005" y1="125.15249999999997" x2="429.95000000000005" y2="138.89249999999998" stroke="#777" stroke-width="0.95"/>
<line x1="428.25000000000006" y1="125.15249999999997" x2="431.65000000000003" y2="125.15249999999997" stroke="#777" stroke-width="0.95"/>
<line x1="429.95000000000005" y1="188.7" x2="429.95000000000005" y2="191.29999999999998" stroke="#1a1a1a" stroke-width="1.2"/>
<rect x="439.00" y="156.07" width="9.00" height="32.63" fill="#ee3f36" stroke="#b5302a" stroke-width="0.5"/>
<line x1="443.5" y1="145.7625" x2="443.5" y2="156.0675" stroke="#999" stroke-width="0.95"/>
<line x1="441.8" y1="145.7625" x2="445.2" y2="145.7625" stroke="#999" stroke-width="0.95"/>
<line x1="443.5" y1="188.7" x2="443.5" y2="191.29999999999998" stroke="#1a1a1a" stroke-width="1.2"/>
<text x="0" y="0" font-size="6.3" text-anchor="middle" fill="#222" transform="translate(405.87,155.20) rotate(-90)">Rel. mRNA</text>
<text x="430.00" y="198.40" font-size="6.3" text-anchor="middle" font-weight="normal" font-style="normal" fill="#1c1c1c" stroke="#1c1c1c" stroke-width="0.22" >KP</text>
<text x="443.50" y="198.40" font-size="6.3" text-anchor="middle" font-weight="normal" font-style="normal" fill="#1c1c1c" stroke="#1c1c1c" stroke-width="0.22" >KPN</text>
<text x="-0.90" y="219.10" font-size="13.0" text-anchor="start" font-weight="bold" font-style="normal" fill="#111" stroke="#111" stroke-width="0.1" >D</text>
<line x1="25.1" y1="227.5" x2="25.1" y2="283.5" stroke="#1a1a1a" stroke-width="1.2"/>
<line x1="24.6" y1="283.0" x2="92.75" y2="283.0" stroke="#1a1a1a" stroke-width="1.2"/>
<line x1="21.200000000000003" y1="283.0" x2="25.1" y2="283.0" stroke="#1a1a1a" stroke-width="1.2"/>
<text x="20.50" y="285.34" font-size="6.5" text-anchor="end" font-weight="normal" font-style="normal" fill="#1c1c1c" stroke="#1c1c1c" stroke-width="0.22" >0</text>
<line x1="21.200000000000003" y1="273.75" x2="25.1" y2="273.75" stroke="#1a1a1a" stroke-width="1.2"/>
<text x="20.50" y="276.09" font-size="6.5" text-anchor="end" font-weight="normal" font-style="normal" fill="#1c1c1c" stroke="#1c1c1c" stroke-width="0.22" >20</text>
<line x1="21.200000000000003" y1="264.5" x2="25.1" y2="264.5" stroke="#1a1a1a" stroke-width="1.2"/>
<text x="20.50" y="266.84" font-size="6.5" text-anchor="end" font-weight="normal" font-style="normal" fill="#1c1c1c" stroke="#1c1c1c" stroke-width="0.22" >40</text>
<line x1="21.200000000000003" y1="255.25" x2="25.1" y2="255.25" stroke="#1a1a1a" stroke-width="1.2"/>
<text x="20.50" y="257.59" font-size="6.5" text-anchor="end" font-weight="normal" font-style="normal" fill="#1c1c1c" stroke="#1c1c1c" stroke-width="0.22" >60</text>
<line x1="21.200000000000003" y1="246.0" x2="25.1" y2="246.0" stroke="#1a1a1a" stroke-width="1.2"/>
<text x="20.50" y="248.34" font-size="6.5" text-anchor="end" font-weight="normal" font-style="normal" fill="#1c1c1c" stroke="#1c1c1c" stroke-width="0.22" >80</text>
<line x1="21.200000000000003" y1="236.75" x2="25.1" y2="236.75" stroke="#1a1a1a" stroke-width="1.2"/>
<text x="20.50" y="239.09" font-size="6.5" text-anchor="end" font-weight="normal" font-style="normal" fill="#1c1c1c" stroke="#1c1c1c" stroke-width="0.22" >100</text>
<line x1="21.200000000000003" y1="227.5" x2="25.1" y2="227.5" stroke="#1a1a1a" stroke-width="1.2"/>
<text x="20.50" y="229.84" font-size="6.5" text-anchor="end" font-weight="normal" font-style="normal" fill="#1c1c1c" stroke="#1c1c1c" stroke-width="0.22" >120</text>
<rect x="27.50" y="236.75" width="7.40" height="46.25" fill="#0a0a0a"/>
<line x1="31.2" y1="283.0" x2="31.2" y2="285.6" stroke="#1a1a1a" stroke-width="1.2"/>
<rect x="38.77" y="239.99" width="7.40" height="43.01" fill="#b4b4b4"/>
<line x1="42.47" y1="239.0625" x2="42.47" y2="239.9875" stroke="#333" stroke-width="0.95"/>
<line x1="40.769999999999996" y1="239.0625" x2="44.17" y2="239.0625" stroke="#333" stroke-width="0.95"/>
<line x1="42.47" y1="283.0" x2="42.47" y2="285.6" stroke="#1a1a1a" stroke-width="1.2"/>
<rect x="50.04" y="236.75" width="7.40" height="46.25" fill="#9a9a9a"/>
<line x1="53.739999999999995" y1="283.0" x2="53.739999999999995" y2="285.6" stroke="#1a1a1a" stroke-width="1.2"/>
<rect x="61.31" y="235.82" width="7.40" height="47.18" fill="#dedede"/>
<line x1="65.01" y1="283.0" x2="65.01" y2="285.6" stroke="#1a1a1a" stroke-width="1.2"/>
<rect x="72.58" y="236.75" width="7.40" height="46.25" fill="#7c7c7c"/>
<line x1="76.28" y1="283.0" x2="76.28" y2="285.6" stroke="#1a1a1a" stroke-width="1.2"/>
<rect x="83.85" y="241.38" width="7.40" height="41.62" fill="#ababab"/>
<line x1="87.55" y1="233.05" x2="87.55" y2="241.375" stroke="#333" stroke-width="0.95"/>
<line x1="85.85" y1="233.05" x2="89.25" y2="233.05" stroke="#333" stroke-width="0.95"/>
<line x1="87.55" y1="283.0" x2="87.55" y2="285.6" stroke="#1a1a1a" stroke-width="1.2"/>
<text x="0" y="0" font-size="6.1" text-anchor="middle" fill="#222" transform="translate(7.80,254.00) rotate(-90)">Rel. mRNA</text>
<text x="59.00" y="226.20" font-size="6.3" text-anchor="middle" font-weight="bold" font-style="italic" fill="#111" stroke="#111" stroke-width="0.22" >LKB1</text>
<text x="24.80" y="292.4" font-size="6.0" text-anchor="end" textLength="15.2" lengthAdjust="spacingAndGlyphs" fill="#1c1c1c" stroke="#1c1c1c" stroke-width="0.22">siRNA</text>
<text x="31.20" y="292.40" font-size="6.0" text-anchor="middle" font-weight="normal" font-style="normal" fill="#1c1c1c" stroke="#1c1c1c" stroke-width="0.22" >-</text>
<text x="42.47" y="292.40" font-size="6.0" text-anchor="middle" font-weight="normal" font-style="normal" fill="#1c1c1c" stroke="#1c1c1c" stroke-width="0.22" >N</text>
<text x="53.74" y="292.40" font-size="6.0" text-anchor="middle" font-weight="normal" font-style="normal" fill="#1c1c1c" stroke="#1c1c1c" stroke-width="0.22" >-</text>
<text x="65.01" y="292.40" font-size="6.0" text-anchor="middle" font-weight="normal" font-style="normal" fill="#1c1c1c" stroke="#1c1c1c" stroke-width="0.22" >N</text>
<text x="76.28" y="292.40" font-size="6.0" text-anchor="middle" font-weight="normal" font-style="normal" fill="#1c1c1c" stroke="#1c1c1c" stroke-width="0.22" >-</text>
<text x="87.55" y="292.40" font-size="6.0" text-anchor="middle" font-weight="normal" font-style="normal" fill="#1c1c1c" stroke="#1c1c1c" stroke-width="0.22" >N</text>
<line x1="28.935000000000002" y1="294.3" x2="44.735" y2="294.3" stroke="#444" stroke-width="0.75"/>
<text x="36.84" y="301.10" font-size="6.0" text-anchor="middle" font-weight="normal" font-style="normal" fill="#1c1c1c" stroke="#1c1c1c" stroke-width="0.22" >A549</text>
<line x1="51.475" y1="294.3" x2="67.275" y2="294.3" stroke="#444" stroke-width="0.75"/>
<text x="59.38" y="301.10" font-size="6.0" text-anchor="middle" font-weight="normal" font-style="normal" fill="#1c1c1c" stroke="#1c1c1c" stroke-width="0.22" >H460</text>
<line x1="74.015" y1="294.3" x2="89.81500000000001" y2="294.3" stroke="#444" stroke-width="0.75"/>
<text x="81.92" y="301.10" font-size="6.0" text-anchor="middle" font-weight="normal" font-style="normal" fill="#1c1c1c" stroke="#1c1c1c" stroke-width="0.22" >H1299</text>
<line x1="118.1" y1="227.5" x2="118.1" y2="283.5" stroke="#1a1a1a" stroke-width="1.2"/>
<line x1="117.6" y1="283.0" x2="186.60000000000002" y2="283.0" stroke="#1a1a1a" stroke-width="1.2"/>
<line x1="114.19999999999999" y1="283.0" x2="118.1" y2="283.0" stroke="#1a1a1a" stroke-width="1.2"/>
<text x="113.50" y="285.34" font-size="6.5" text-anchor="end" font-weight="normal" font-style="normal" fill="#1c1c1c" stroke="#1c1c1c" stroke-width="0.22" >0</text>
<line x1="114.19999999999999" y1="273.75" x2="118.1" y2="273.75" stroke="#1a1a1a" stroke-width="1.2"/>
<text x="113.50" y="276.09" font-size="6.5" text-anchor="end" font-weight="normal" font-style="normal" fill="#1c1c1c" stroke="#1c1c1c" stroke-width="0.22" >20</text>
<line x1="114.19999999999999" y1="264.5" x2="118.1" y2="264.5" stroke="#1a1a1a" stroke-width="1.2"/>
<text x="113.50" y="266.84" font-size="6.5" text-anchor="end" font-weight="normal" font-style="normal" fill="#1c1c1c" stroke="#1c1c1c" stroke-width="0.22" >40</text>
<line x1="114.19999999999999" y1="255.25" x2="118.1" y2="255.25" stroke="#1a1a1a" stroke-width="1.2"/>
<text x="113.50" y="257.59" font-size="6.5" text-anchor="end" font-weight="normal" font-style="normal" fill="#1c1c1c" stroke="#1c1c1c" stroke-width="0.22" >60</text>
<line x1="114.19999999999999" y1="246.0" x2="118.1" y2="246.0" stroke="#1a1a1a" stroke-width="1.2"/>
<text x="113.50" y="248.34" font-size="6.5" text-anchor="end" font-weight="normal" font-style="normal" fill="#1c1c1c" stroke="#1c1c1c" stroke-width="0.22" >80</text>
<line x1="114.19999999999999" y1="236.75" x2="118.1" y2="236.75" stroke="#1a1a1a" stroke-width="1.2"/>
<text x="113.50" y="239.09" font-size="6.5" text-anchor="end" font-weight="normal" font-style="normal" fill="#1c1c1c" stroke="#1c1c1c" stroke-width="0.22" >100</text>
<line x1="114.19999999999999" y1="227.5" x2="118.1" y2="227.5" stroke="#1a1a1a" stroke-width="1.2"/>
<text x="113.50" y="229.84" font-size="6.5" text-anchor="end" font-weight="normal" font-style="normal" fill="#1c1c1c" stroke="#1c1c1c" stroke-width="0.22" >120</text>
<rect x="120.30" y="236.75" width="7.30" height="46.25" fill="#0a0a0a"/>
<line x1="123.94999999999999" y1="283.0" x2="123.94999999999999" y2="285.6" stroke="#1a1a1a" stroke-width="1.2"/>
<rect x="131.80" y="243.69" width="7.30" height="39.31" fill="#b4b4b4"/>
<line x1="135.45000000000002" y1="240.45" x2="135.45000000000002" y2="243.6875" stroke="#333" stroke-width="0.95"/>
<line x1="133.75000000000003" y1="240.45" x2="137.15" y2="240.45" stroke="#333" stroke-width="0.95"/>
<line x1="135.45000000000002" y1="283.0" x2="135.45000000000002" y2="285.6" stroke="#1a1a1a" stroke-width="1.2"/>
<rect x="143.30" y="236.75" width="7.30" height="46.25" fill="#9a9a9a"/>
<line x1="146.95000000000002" y1="283.0" x2="146.95000000000002" y2="285.6" stroke="#1a1a1a" stroke-width="1.2"/>
<rect x="154.80" y="245.07" width="7.30" height="37.93" fill="#dedede"/>
<line x1="158.45000000000002" y1="238.1375" x2="158.45000000000002" y2="245.075" stroke="#333" stroke-width="0.95"/>
<line x1="156.75000000000003" y1="238.1375" x2="160.15" y2="238.1375" stroke="#333" stroke-width="0.95"/>
<line x1="158.45000000000002" y1="283.0" x2="158.45000000000002" y2="285.6" stroke="#1a1a1a" stroke-width="1.2"/>
<rect x="166.30" y="236.75" width="7.30" height="46.25" fill="#7c7c7c"/>
<line x1="169.95000000000002" y1="283.0" x2="169.95000000000002" y2="285.6" stroke="#1a1a1a" stroke-width="1.2"/>
<rect x="177.80" y="240.91" width="7.30" height="42.09" fill="#ababab"/>
<line x1="181.45000000000002" y1="239.0625" x2="181.45000000000002" y2="240.9125" stroke="#333" stroke-width="0.95"/>
<line x1="179.75000000000003" y1="239.0625" x2="183.15" y2="239.0625" stroke="#333" stroke-width="0.95"/>
<line x1="181.45000000000002" y1="283.0" x2="181.45000000000002" y2="285.6" stroke="#1a1a1a" stroke-width="1.2"/>
<text x="0" y="0" font-size="6.1" text-anchor="middle" fill="#222" transform="translate(101.60,254.00) rotate(-90)">Rel. mRNA</text>
<text x="155.50" y="226.20" font-size="6.3" text-anchor="middle" font-weight="bold" font-style="italic" fill="#111" stroke="#111" stroke-width="0.22" >AMPKα1</text>
<text x="117.80" y="292.4" font-size="6.0" text-anchor="end" textLength="15.2" lengthAdjust="spacingAndGlyphs" fill="#1c1c1c" stroke="#1c1c1c" stroke-width="0.22">siRNA</text>
<text x="123.95" y="292.40" font-size="6.0" text-anchor="middle" font-weight="normal" font-style="normal" fill="#1c1c1c" stroke="#1c1c1c" stroke-width="0.22" >-</text>
<text x="135.45" y="292.40" font-size="6.0" text-anchor="middle" font-weight="normal" font-style="normal" fill="#1c1c1c" stroke="#1c1c1c" stroke-width="0.22" >N</text>
<text x="146.95" y="292.40" font-size="6.0" text-anchor="middle" font-weight="normal" font-style="normal" fill="#1c1c1c" stroke="#1c1c1c" stroke-width="0.22" >-</text>
<text x="158.45" y="292.40" font-size="6.0" text-anchor="middle" font-weight="normal" font-style="normal" fill="#1c1c1c" stroke="#1c1c1c" stroke-width="0.22" >N</text>
<text x="169.95" y="292.40" font-size="6.0" text-anchor="middle" font-weight="normal" font-style="normal" fill="#1c1c1c" stroke="#1c1c1c" stroke-width="0.22" >-</text>
<text x="181.45" y="292.40" font-size="6.0" text-anchor="middle" font-weight="normal" font-style="normal" fill="#1c1c1c" stroke="#1c1c1c" stroke-width="0.22" >N</text>
<line x1="121.79999999999998" y1="294.3" x2="137.6" y2="294.3" stroke="#444" stroke-width="0.75"/>
<text x="129.70" y="301.10" font-size="6.0" text-anchor="middle" font-weight="normal" font-style="normal" fill="#1c1c1c" stroke="#1c1c1c" stroke-width="0.22" >A549</text>
<line x1="144.8" y1="294.3" x2="160.60000000000002" y2="294.3" stroke="#444" stroke-width="0.75"/>
<text x="152.70" y="301.10" font-size="6.0" text-anchor="middle" font-weight="normal" font-style="normal" fill="#1c1c1c" stroke="#1c1c1c" stroke-width="0.22" >H460</text>
<line x1="167.8" y1="294.3" x2="183.60000000000002" y2="294.3" stroke="#444" stroke-width="0.75"/>
<text x="175.70" y="301.10" font-size="6.0" text-anchor="middle" font-weight="normal" font-style="normal" fill="#1c1c1c" stroke="#1c1c1c" stroke-width="0.22" >H1299</text>
<line x1="211.8" y1="227.5" x2="211.8" y2="283.5" stroke="#1a1a1a" stroke-width="1.2"/>
<line x1="211.3" y1="283.0" x2="277.45000000000005" y2="283.0" stroke="#1a1a1a" stroke-width="1.2"/>
<line x1="207.9" y1="283.0" x2="211.8" y2="283.0" stroke="#1a1a1a" stroke-width="1.2"/>
<text x="207.20" y="285.34" font-size="6.5" text-anchor="end" font-weight="normal" font-style="normal" fill="#1c1c1c" stroke="#1c1c1c" stroke-width="0.22" >0</text>
<line x1="207.9" y1="273.75" x2="211.8" y2="273.75" stroke="#1a1a1a" stroke-width="1.2"/>
<text x="207.20" y="276.09" font-size="6.5" text-anchor="end" font-weight="normal" font-style="normal" fill="#1c1c1c" stroke="#1c1c1c" stroke-width="0.22" >20</text>
<line x1="207.9" y1="264.5" x2="211.8" y2="264.5" stroke="#1a1a1a" stroke-width="1.2"/>
<text x="207.20" y="266.84" font-size="6.5" text-anchor="end" font-weight="normal" font-style="normal" fill="#1c1c1c" stroke="#1c1c1c" stroke-width="0.22" >40</text>
<line x1="207.9" y1="255.25" x2="211.8" y2="255.25" stroke="#1a1a1a" stroke-width="1.2"/>
<text x="207.20" y="257.59" font-size="6.5" text-anchor="end" font-weight="normal" font-style="normal" fill="#1c1c1c" stroke="#1c1c1c" stroke-width="0.22" >60</text>
<line x1="207.9" y1="246.0" x2="211.8" y2="246.0" stroke="#1a1a1a" stroke-width="1.2"/>
<text x="207.20" y="248.34" font-size="6.5" text-anchor="end" font-weight="normal" font-style="normal" fill="#1c1c1c" stroke="#1c1c1c" stroke-width="0.22" >80</text>
<line x1="207.9" y1="236.75" x2="211.8" y2="236.75" stroke="#1a1a1a" stroke-width="1.2"/>
<text x="207.20" y="239.09" font-size="6.5" text-anchor="end" font-weight="normal" font-style="normal" fill="#1c1c1c" stroke="#1c1c1c" stroke-width="0.22" >100</text>
<line x1="207.9" y1="227.5" x2="211.8" y2="227.5" stroke="#1a1a1a" stroke-width="1.2"/>
<text x="207.20" y="229.84" font-size="6.5" text-anchor="end" font-weight="normal" font-style="normal" fill="#1c1c1c" stroke="#1c1c1c" stroke-width="0.22" >120</text>
<rect x="214.30" y="236.75" width="6.80" height="46.25" fill="#0a0a0a"/>
<line x1="217.70000000000002" y1="283.0" x2="217.70000000000002" y2="285.6" stroke="#1a1a1a" stroke-width="1.2"/>
<rect x="225.27" y="240.91" width="6.80" height="42.09" fill="#b4b4b4"/>
<line x1="228.67000000000002" y1="239.525" x2="228.67000000000002" y2="240.9125" stroke="#333" stroke-width="0.95"/>
<line x1="226.97000000000003" y1="239.525" x2="230.37" y2="239.525" stroke="#333" stroke-width="0.95"/>
<line x1="228.67000000000002" y1="283.0" x2="228.67000000000002" y2="285.6" stroke="#1a1a1a" stroke-width="1.2"/>
<rect x="236.24" y="234.90" width="6.80" height="48.10" fill="#9a9a9a"/>
<line x1="239.64000000000001" y1="233.975" x2="239.64000000000001" y2="234.9" stroke="#333" stroke-width="0.95"/>
<line x1="237.94000000000003" y1="233.975" x2="241.34" y2="233.975" stroke="#333" stroke-width="0.95"/>
<line x1="239.64000000000001" y1="283.0" x2="239.64000000000001" y2="285.6" stroke="#1a1a1a" stroke-width="1.2"/>
<rect x="247.21" y="240.91" width="6.80" height="42.09" fill="#dedede"/>
<line x1="250.61" y1="233.5125" x2="250.61" y2="240.9125" stroke="#333" stroke-width="0.95"/>
<line x1="248.91000000000003" y1="233.5125" x2="252.31" y2="233.5125" stroke="#333" stroke-width="0.95"/>
<line x1="250.61" y1="283.0" x2="250.61" y2="285.6" stroke="#1a1a1a" stroke-width="1.2"/>
<rect x="258.18" y="236.75" width="6.80" height="46.25" fill="#7c7c7c"/>
<line x1="261.58000000000004" y1="283.0" x2="261.58000000000004" y2="285.6" stroke="#1a1a1a" stroke-width="1.2"/>
<rect x="269.15" y="249.24" width="6.80" height="33.76" fill="#ababab"/>
<line x1="272.55000000000007" y1="244.15" x2="272.55000000000007" y2="249.2375" stroke="#333" stroke-width="0.95"/>
<line x1="270.8500000000001" y1="244.15" x2="274.25000000000006" y2="244.15" stroke="#333" stroke-width="0.95"/>
<line x1="272.55000000000007" y1="283.0" x2="272.55000000000007" y2="285.6" stroke="#1a1a1a" stroke-width="1.2"/>
<text x="0" y="0" font-size="6.1" text-anchor="middle" fill="#222" transform="translate(196.20,254.00) rotate(-90)">Rel. mRNA</text>
<text x="242.60" y="226.20" font-size="6.3" text-anchor="middle" font-weight="bold" font-style="italic" fill="#111" stroke="#111" stroke-width="0.22" >AMPKα2</text>
<text x="211.50" y="292.4" font-size="6.0" text-anchor="end" textLength="15.2" lengthAdjust="spacingAndGlyphs" fill="#1c1c1c" stroke="#1c1c1c" stroke-width="0.22">siRNA</text>
<text x="217.70" y="292.40" font-size="6.0" text-anchor="middle" font-weight="normal" font-style="normal" fill="#1c1c1c" stroke="#1c1c1c" stroke-width="0.22" >-</text>
<text x="228.67" y="292.40" font-size="6.0" text-anchor="middle" font-weight="normal" font-style="normal" fill="#1c1c1c" stroke="#1c1c1c" stroke-width="0.22" >N</text>
<text x="239.64" y="292.40" font-size="6.0" text-anchor="middle" font-weight="normal" font-style="normal" fill="#1c1c1c" stroke="#1c1c1c" stroke-width="0.22" >-</text>
<text x="250.61" y="292.40" font-size="6.0" text-anchor="middle" font-weight="normal" font-style="normal" fill="#1c1c1c" stroke="#1c1c1c" stroke-width="0.22" >N</text>
<text x="261.58" y="292.40" font-size="6.0" text-anchor="middle" font-weight="normal" font-style="normal" fill="#1c1c1c" stroke="#1c1c1c" stroke-width="0.22" >-</text>
<text x="272.55" y="292.40" font-size="6.0" text-anchor="middle" font-weight="normal" font-style="normal" fill="#1c1c1c" stroke="#1c1c1c" stroke-width="0.22" >N</text>
<line x1="215.28500000000003" y1="294.3" x2="231.08500000000004" y2="294.3" stroke="#444" stroke-width="0.75"/>
<text x="223.19" y="301.10" font-size="6.0" text-anchor="middle" font-weight="normal" font-style="normal" fill="#1c1c1c" stroke="#1c1c1c" stroke-width="0.22" >A549</text>
<line x1="237.22500000000002" y1="294.3" x2="253.02500000000003" y2="294.3" stroke="#444" stroke-width="0.75"/>
<text x="245.13" y="301.10" font-size="6.0" text-anchor="middle" font-weight="normal" font-style="normal" fill="#1c1c1c" stroke="#1c1c1c" stroke-width="0.22" >H460</text>
<line x1="259.165" y1="294.3" x2="274.965" y2="294.3" stroke="#444" stroke-width="0.75"/>
<text x="267.06" y="301.10" font-size="6.0" text-anchor="middle" font-weight="normal" font-style="normal" fill="#1c1c1c" stroke="#1c1c1c" stroke-width="0.22" >H1299</text>
<text x="286.00" y="219.90" font-size="12.6" text-anchor="start" font-weight="bold" font-style="normal" fill="#111" stroke="#111" stroke-width="0.1" >E</text>
<text x="341.20" y="226.30" font-size="6.5" text-anchor="middle" font-weight="bold" font-style="normal" fill="#111" stroke="#111" stroke-width="0.22" >NEDD9</text>
<line x1="313.0" y1="226.0" x2="313.0" y2="282.3" stroke="#1a1a1a" stroke-width="1.2"/>
<line x1="312.5" y1="281.8" x2="368.9" y2="281.8" stroke="#1a1a1a" stroke-width="1.2"/>
<line x1="308.5" y1="281.8" x2="313.0" y2="281.8" stroke="#1a1a1a" stroke-width="1.2"/>
<text x="307.80" y="284.14" font-size="6.5" text-anchor="end" font-weight="normal" font-style="normal" fill="#1c1c1c" stroke="#1c1c1c" stroke-width="0.22" >0</text>
<line x1="308.5" y1="263.2" x2="313.0" y2="263.2" stroke="#1a1a1a" stroke-width="1.2"/>
<text x="307.80" y="265.54" font-size="6.5" text-anchor="end" font-weight="normal" font-style="normal" fill="#1c1c1c" stroke="#1c1c1c" stroke-width="0.22" >0.5</text>
<line x1="308.5" y1="244.60000000000002" x2="313.0" y2="244.60000000000002" stroke="#1a1a1a" stroke-width="1.2"/>
<text x="307.80" y="246.94" font-size="6.5" text-anchor="end" font-weight="normal" font-style="normal" fill="#1c1c1c" stroke="#1c1c1c" stroke-width="0.22" >1</text>
<line x1="308.5" y1="226.0" x2="313.0" y2="226.0" stroke="#1a1a1a" stroke-width="1.2"/>
<text x="307.80" y="228.34" font-size="6.5" text-anchor="end" font-weight="normal" font-style="normal" fill="#1c1c1c" stroke="#1c1c1c" stroke-width="0.22" >1.5</text>
<rect x="314.40" y="244.60" width="6.50" height="37.20" fill="#0a0a0a"/>
<line x1="317.65" y1="239.392" x2="317.65" y2="244.60000000000002" stroke="#333" stroke-width="0.95"/>
<line x1="315.95" y1="239.392" x2="319.34999999999997" y2="239.392" stroke="#333" stroke-width="0.95"/>
<line x1="317.65" y1="281.8" x2="317.65" y2="284.40000000000003" stroke="#1a1a1a" stroke-width="1.2"/>
<rect x="323.80" y="265.80" width="6.50" height="16.00" fill="#b4b4b4"/>
<line x1="327.04999999999995" y1="260.224" x2="327.04999999999995" y2="265.80400000000003" stroke="#333" stroke-width="0.95"/>
<line x1="325.34999999999997" y1="260.224" x2="328.74999999999994" y2="260.224" stroke="#333" stroke-width="0.95"/>
<line x1="327.04999999999995" y1="281.8" x2="327.04999999999995" y2="284.40000000000003" stroke="#1a1a1a" stroke-width="1.2"/>
<rect x="333.20" y="244.60" width="6.50" height="37.20" fill="#9a9a9a"/>
<line x1="336.45" y1="240.88" x2="336.45" y2="244.60000000000002" stroke="#333" stroke-width="0.95"/>
<line x1="334.75" y1="240.88" x2="338.15" y2="240.88" stroke="#333" stroke-width="0.95"/>
<line x1="336.45" y1="281.8" x2="336.45" y2="284.40000000000003" stroke="#1a1a1a" stroke-width="1.2"/>
<rect x="342.60" y="266.18" width="6.50" height="15.62" fill="#dedede"/>
<line x1="345.84999999999997" y1="259.48" x2="345.84999999999997" y2="266.176" stroke="#333" stroke-width="0.95"/>
<line x1="344.15" y1="259.48" x2="347.54999999999995" y2="259.48" stroke="#333" stroke-width="0.95"/>
<line x1="345.84999999999997" y1="281.8" x2="345.84999999999997" y2="284.40000000000003" stroke="#1a1a1a" stroke-width="1.2"/>
<rect x="352.00" y="244.60" width="6.50" height="37.20" fill="#7c7c7c"/>
<line x1="355.25" y1="243.11200000000002" x2="355.25" y2="244.60000000000002" stroke="#333" stroke-width="0.95"/>
<line x1="353.55" y1="243.11200000000002" x2="356.95" y2="243.11200000000002" stroke="#333" stroke-width="0.95"/>
<line x1="355.25" y1="281.8" x2="355.25" y2="284.40000000000003" stroke="#1a1a1a" stroke-width="1.2"/>
<rect x="361.40" y="266.18" width="6.50" height="15.62" fill="#ababab"/>
<line x1="364.65" y1="263.944" x2="364.65" y2="266.176" stroke="#333" stroke-width="0.95"/>
<line x1="362.95" y1="263.944" x2="366.34999999999997" y2="263.944" stroke="#333" stroke-width="0.95"/>
<line x1="364.65" y1="281.8" x2="364.65" y2="284.40000000000003" stroke="#1a1a1a" stroke-width="1.2"/>
<text x="0" y="0" font-size="6.25" text-anchor="middle" fill="#222" transform="translate(295.75,253.60) rotate(-90)">Rel. protein</text>
<text x="312.00" y="292.4" font-size="6.0" text-anchor="end" textLength="15.2" lengthAdjust="spacingAndGlyphs" fill="#1c1c1c" stroke="#1c1c1c" stroke-width="0.22">siRNA</text>
<text x="317.65" y="292.40" font-size="6.0" text-anchor="middle" font-weight="normal" font-style="normal" fill="#1c1c1c" stroke="#1c1c1c" stroke-width="0.22" >-</text>
<text x="327.05" y="292.40" font-size="6.0" text-anchor="middle" font-weight="normal" font-style="normal" fill="#1c1c1c" stroke="#1c1c1c" stroke-width="0.22" >N</text>
<text x="336.45" y="292.40" font-size="6.0" text-anchor="middle" font-weight="normal" font-style="normal" fill="#1c1c1c" stroke="#1c1c1c" stroke-width="0.22" >-</text>
<text x="345.85" y="292.40" font-size="6.0" text-anchor="middle" font-weight="normal" font-style="normal" fill="#1c1c1c" stroke="#1c1c1c" stroke-width="0.22" >N</text>
<text x="355.25" y="292.40" font-size="6.0" text-anchor="middle" font-weight="normal" font-style="normal" fill="#1c1c1c" stroke="#1c1c1c" stroke-width="0.22" >-</text>
<text x="364.65" y="292.40" font-size="6.0" text-anchor="middle" font-weight="normal" font-style="normal" fill="#1c1c1c" stroke="#1c1c1c" stroke-width="0.22" >N</text>
<line x1="314.0" y1="294.3" x2="329.6" y2="294.3" stroke="#444" stroke-width="0.75"/>
<text x="321.30" y="301.10" font-size="6.0" text-anchor="middle" font-weight="normal" font-style="normal" fill="#1c1c1c" stroke="#1c1c1c" stroke-width="0.22" >A549</text>
<line x1="330.8" y1="294.3" x2="346.3" y2="294.3" stroke="#444" stroke-width="0.75"/>
<text x="338.50" y="301.10" font-size="6.0" text-anchor="middle" font-weight="normal" font-style="normal" fill="#1c1c1c" stroke="#1c1c1c" stroke-width="0.22" >H460</text>
<line x1="347.5" y1="294.3" x2="364.2" y2="294.3" stroke="#444" stroke-width="0.75"/>
<text x="356.70" y="301.10" font-size="6.0" text-anchor="middle" font-weight="normal" font-style="normal" fill="#1c1c1c" stroke="#1c1c1c" stroke-width="0.22" >H1299</text>
<text x="326.70" y="237.00" font-size="7.2" text-anchor="middle" font-weight="bold" font-style="normal" fill="#1c1c1c" stroke="#1c1c1c" stroke-width="0.22" >*</text>
<text x="345.60" y="237.00" font-size="7.2" text-anchor="middle" font-weight="bold" font-style="normal" fill="#1c1c1c" stroke="#1c1c1c" stroke-width="0.22" >*</text>
<text x="364.00" y="237.00" font-size="7.2" text-anchor="middle" font-weight="bold" font-style="normal" fill="#1c1c1c" stroke="#1c1c1c" stroke-width="0.22" >*</text>
<text x="401.00" y="226.68" font-size="6.6" font-weight="bold" font-style="normal" fill="#111" stroke="#111" stroke-width="0.15">ph<tspan font-size="4.49" dy="-2.77">S428</tspan><tspan dy="2.77">Lkb1</tspan></text>
<line x1="388.6" y1="226.60000000000002" x2="388.6" y2="282.3" stroke="#1a1a1a" stroke-width="1.2"/>
<line x1="388.1" y1="281.8" x2="442.90000000000003" y2="281.8" stroke="#1a1a1a" stroke-width="1.2"/>
<line x1="384.1" y1="281.8" x2="388.6" y2="281.8" stroke="#1a1a1a" stroke-width="1.2"/>
<text x="383.40" y="284.14" font-size="6.5" text-anchor="end" font-weight="normal" font-style="normal" fill="#1c1c1c" stroke="#1c1c1c" stroke-width="0.22" >0</text>
<line x1="384.1" y1="268.0" x2="388.6" y2="268.0" stroke="#1a1a1a" stroke-width="1.2"/>
<text x="383.40" y="270.34" font-size="6.5" text-anchor="end" font-weight="normal" font-style="normal" fill="#1c1c1c" stroke="#1c1c1c" stroke-width="0.22" >1</text>
<line x1="384.1" y1="254.20000000000002" x2="388.6" y2="254.20000000000002" stroke="#1a1a1a" stroke-width="1.2"/>
<text x="383.40" y="256.54" font-size="6.5" text-anchor="end" font-weight="normal" font-style="normal" fill="#1c1c1c" stroke="#1c1c1c" stroke-width="0.22" >2</text>
<line x1="384.1" y1="240.4" x2="388.6" y2="240.4" stroke="#1a1a1a" stroke-width="1.2"/>
<text x="383.40" y="242.74" font-size="6.5" text-anchor="end" font-weight="normal" font-style="normal" fill="#1c1c1c" stroke="#1c1c1c" stroke-width="0.22" >3</text>
<line x1="384.1" y1="226.60000000000002" x2="388.6" y2="226.60000000000002" stroke="#1a1a1a" stroke-width="1.2"/>
<text x="383.40" y="228.94" font-size="6.5" text-anchor="end" font-weight="normal" font-style="normal" fill="#1c1c1c" stroke="#1c1c1c" stroke-width="0.22" >4</text>
<rect x="390.80" y="268.00" width="6.10" height="13.80" fill="#0a0a0a"/>
<line x1="393.85" y1="281.8" x2="393.85" y2="284.40000000000003" stroke="#1a1a1a" stroke-width="1.2"/>
<rect x="399.80" y="245.92" width="6.10" height="35.88" fill="#b4b4b4"/>
<line x1="402.85" y1="237.64000000000001" x2="402.85" y2="245.92000000000002" stroke="#333" stroke-width="0.95"/>
<line x1="401.15000000000003" y1="237.64000000000001" x2="404.55" y2="237.64000000000001" stroke="#333" stroke-width="0.95"/>
<line x1="402.85" y1="281.8" x2="402.85" y2="284.40000000000003" stroke="#1a1a1a" stroke-width="1.2"/>
<rect x="408.80" y="268.00" width="6.10" height="13.80" fill="#9a9a9a"/>
<line x1="411.85" y1="262.204" x2="411.85" y2="268.0" stroke="#333" stroke-width="0.95"/>
<line x1="410.15000000000003" y1="262.204" x2="413.55" y2="262.204" stroke="#333" stroke-width="0.95"/>
<line x1="411.85" y1="281.8" x2="411.85" y2="284.40000000000003" stroke="#1a1a1a" stroke-width="1.2"/>
<rect x="417.80" y="265.93" width="6.10" height="15.87" fill="#dedede"/>
<line x1="420.85" y1="261.1" x2="420.85" y2="265.93" stroke="#333" stroke-width="0.95"/>
<line x1="419.15000000000003" y1="261.1" x2="422.55" y2="261.1" stroke="#333" stroke-width="0.95"/>
<line x1="420.85" y1="281.8" x2="420.85" y2="284.40000000000003" stroke="#1a1a1a" stroke-width="1.2"/>
<rect x="426.80" y="268.00" width="6.10" height="13.80" fill="#7c7c7c"/>
<line x1="429.85" y1="266.62" x2="429.85" y2="268.0" stroke="#333" stroke-width="0.95"/>
<line x1="428.15000000000003" y1="266.62" x2="431.55" y2="266.62" stroke="#333" stroke-width="0.95"/>
<line x1="429.85" y1="281.8" x2="429.85" y2="284.40000000000003" stroke="#1a1a1a" stroke-width="1.2"/>
<rect x="435.80" y="252.13" width="6.10" height="29.67" fill="#ababab"/>
<line x1="438.85" y1="232.81" x2="438.85" y2="252.13" stroke="#333" stroke-width="0.95"/>
<line x1="437.15000000000003" y1="232.81" x2="440.55" y2="232.81" stroke="#333" stroke-width="0.95"/>
<line x1="438.85" y1="281.8" x2="438.85" y2="284.40000000000003" stroke="#1a1a1a" stroke-width="1.2"/>
<text x="0" y="0" font-size="6.25" text-anchor="middle" fill="#222" transform="translate(377.25,253.60) rotate(-90)">Rel. protein</text>
<text x="387.60" y="292.4" font-size="6.0" text-anchor="end" textLength="15.2" lengthAdjust="spacingAndGlyphs" fill="#1c1c1c" stroke="#1c1c1c" stroke-width="0.22">siRNA</text>
<text x="393.85" y="292.40" font-size="6.0" text-anchor="middle" font-weight="normal" font-style="normal" fill="#1c1c1c" stroke="#1c1c1c" stroke-width="0.22" >-</text>
<text x="402.85" y="292.40" font-size="6.0" text-anchor="middle" font-weight="normal" font-style="normal" fill="#1c1c1c" stroke="#1c1c1c" stroke-width="0.22" >N</text>
<text x="411.85" y="292.40" font-size="6.0" text-anchor="middle" font-weight="normal" font-style="normal" fill="#1c1c1c" stroke="#1c1c1c" stroke-width="0.22" >-</text>
<text x="420.85" y="292.40" font-size="6.0" text-anchor="middle" font-weight="normal" font-style="normal" fill="#1c1c1c" stroke="#1c1c1c" stroke-width="0.22" >N</text>
<text x="429.85" y="292.40" font-size="6.0" text-anchor="middle" font-weight="normal" font-style="normal" fill="#1c1c1c" stroke="#1c1c1c" stroke-width="0.22" >-</text>
<text x="438.85" y="292.40" font-size="6.0" text-anchor="middle" font-weight="normal" font-style="normal" fill="#1c1c1c" stroke="#1c1c1c" stroke-width="0.22" >N</text>
<line x1="390.8" y1="294.3" x2="406.2" y2="294.3" stroke="#444" stroke-width="0.75"/>
<text x="398.60" y="301.10" font-size="6.0" text-anchor="middle" font-weight="normal" font-style="normal" fill="#1c1c1c" stroke="#1c1c1c" stroke-width="0.22" >A549</text>
<line x1="407.7" y1="294.3" x2="423.0" y2="294.3" stroke="#444" stroke-width="0.75"/>
<text x="415.40" y="301.10" font-size="6.0" text-anchor="middle" font-weight="normal" font-style="normal" fill="#1c1c1c" stroke="#1c1c1c" stroke-width="0.22" >H460</text>
<line x1="424.2" y1="294.3" x2="441.5" y2="294.3" stroke="#444" stroke-width="0.75"/>
<text x="433.10" y="301.10" font-size="6.0" text-anchor="middle" font-weight="normal" font-style="normal" fill="#1c1c1c" stroke="#1c1c1c" stroke-width="0.22" >H1299</text>
<text x="403.00" y="237.50" font-size="7.2" text-anchor="middle" font-weight="bold" font-style="normal" fill="#1c1c1c" stroke="#1c1c1c" stroke-width="0.22" >*</text>
<text x="472.20" y="226.68" font-size="6.6" font-weight="bold" font-style="normal" fill="#111" stroke="#111" stroke-width="0.15">ph<tspan font-size="4.49" dy="-2.77">T172</tspan><tspan dy="2.77">Ampkα</tspan></text>
<line x1="463.6" y1="226.60000000000002" x2="463.6" y2="282.3" stroke="#1a1a1a" stroke-width="1.2"/>
<line x1="463.1" y1="281.8" x2="519.8" y2="281.8" stroke="#1a1a1a" stroke-width="1.2"/>
<line x1="459.1" y1="281.8" x2="463.6" y2="281.8" stroke="#1a1a1a" stroke-width="1.2"/>
<text x="458.40" y="284.14" font-size="6.5" text-anchor="end" font-weight="normal" font-style="normal" fill="#1c1c1c" stroke="#1c1c1c" stroke-width="0.22" >0</text>
<line x1="459.1" y1="268.0" x2="463.6" y2="268.0" stroke="#1a1a1a" stroke-width="1.2"/>
<text x="458.40" y="270.34" font-size="6.5" text-anchor="end" font-weight="normal" font-style="normal" fill="#1c1c1c" stroke="#1c1c1c" stroke-width="0.22" >1</text>
<line x1="459.1" y1="254.20000000000002" x2="463.6" y2="254.20000000000002" stroke="#1a1a1a" stroke-width="1.2"/>
<text x="458.40" y="256.54" font-size="6.5" text-anchor="end" font-weight="normal" font-style="normal" fill="#1c1c1c" stroke="#1c1c1c" stroke-width="0.22" >2</text>
<line x1="459.1" y1="240.4" x2="463.6" y2="240.4" stroke="#1a1a1a" stroke-width="1.2"/>
<text x="458.40" y="242.74" font-size="6.5" text-anchor="end" font-weight="normal" font-style="normal" fill="#1c1c1c" stroke="#1c1c1c" stroke-width="0.22" >3</text>
<line x1="459.1" y1="226.60000000000002" x2="463.6" y2="226.60000000000002" stroke="#1a1a1a" stroke-width="1.2"/>
<text x="458.40" y="228.94" font-size="6.5" text-anchor="end" font-weight="normal" font-style="normal" fill="#1c1c1c" stroke="#1c1c1c" stroke-width="0.22" >4</text>
<rect x="466.00" y="268.00" width="6.30" height="13.80" fill="#0a0a0a"/>
<line x1="469.15" y1="265.93" x2="469.15" y2="268.0" stroke="#333" stroke-width="0.95"/>
<line x1="467.45" y1="265.93" x2="470.84999999999997" y2="265.93" stroke="#333" stroke-width="0.95"/>
<line x1="469.15" y1="281.8" x2="469.15" y2="284.40000000000003" stroke="#1a1a1a" stroke-width="1.2"/>
<rect x="475.30" y="260.41" width="6.30" height="21.39" fill="#b4b4b4"/>
<line x1="478.45000000000005" y1="255.58" x2="478.45000000000005" y2="260.41" stroke="#333" stroke-width="0.95"/>
<line x1="476.75000000000006" y1="255.58" x2="480.15000000000003" y2="255.58" stroke="#333" stroke-width="0.95"/>
<line x1="478.45000000000005" y1="281.8" x2="478.45000000000005" y2="284.40000000000003" stroke="#1a1a1a" stroke-width="1.2"/>
<rect x="484.60" y="268.00" width="6.30" height="13.80" fill="#9a9a9a"/>
<line x1="487.75" y1="265.93" x2="487.75" y2="268.0" stroke="#333" stroke-width="0.95"/>
<line x1="486.05" y1="265.93" x2="489.45" y2="265.93" stroke="#333" stroke-width="0.95"/>
<line x1="487.75" y1="281.8" x2="487.75" y2="284.40000000000003" stroke="#1a1a1a" stroke-width="1.2"/>
<rect x="493.90" y="259.03" width="6.30" height="22.77" fill="#dedede"/>
<line x1="497.04999999999995" y1="249.37" x2="497.04999999999995" y2="259.03000000000003" stroke="#333" stroke-width="0.95"/>
<line x1="495.34999999999997" y1="249.37" x2="498.74999999999994" y2="249.37" stroke="#333" stroke-width="0.95"/>
<line x1="497.04999999999995" y1="281.8" x2="497.04999999999995" y2="284.40000000000003" stroke="#1a1a1a" stroke-width="1.2"/>
<rect x="503.20" y="267.31" width="6.30" height="14.49" fill="#7c7c7c"/>
<line x1="506.35" y1="281.8" x2="506.35" y2="284.40000000000003" stroke="#1a1a1a" stroke-width="1.2"/>
<rect x="512.50" y="262.07" width="6.30" height="19.73" fill="#ababab"/>
<line x1="515.65" y1="261.652" x2="515.65" y2="262.06600000000003" stroke="#333" stroke-width="0.95"/>
<line x1="513.9499999999999" y1="261.652" x2="517.35" y2="261.652" stroke="#333" stroke-width="0.95"/>
<line x1="515.65" y1="281.8" x2="515.65" y2="284.40000000000003" stroke="#1a1a1a" stroke-width="1.2"/>
<text x="0" y="0" font-size="6.25" text-anchor="middle" fill="#222" transform="translate(454.35,253.60) rotate(-90)">Rel. protein</text>
<text x="462.60" y="292.4" font-size="6.0" text-anchor="end" textLength="15.2" lengthAdjust="spacingAndGlyphs" fill="#1c1c1c" stroke="#1c1c1c" stroke-width="0.22">siRNA</text>
<text x="469.15" y="292.40" font-size="6.0" text-anchor="middle" font-weight="normal" font-style="normal" fill="#1c1c1c" stroke="#1c1c1c" stroke-width="0.22" >-</text>
<text x="478.45" y="292.40" font-size="6.0" text-anchor="middle" font-weight="normal" font-style="normal" fill="#1c1c1c" stroke="#1c1c1c" stroke-width="0.22" >N</text>
<text x="487.75" y="292.40" font-size="6.0" text-anchor="middle" font-weight="normal" font-style="normal" fill="#1c1c1c" stroke="#1c1c1c" stroke-width="0.22" >-</text>
<text x="497.05" y="292.40" font-size="6.0" text-anchor="middle" font-weight="normal" font-style="normal" fill="#1c1c1c" stroke="#1c1c1c" stroke-width="0.22" >N</text>
<text x="506.35" y="292.40" font-size="6.0" text-anchor="middle" font-weight="normal" font-style="normal" fill="#1c1c1c" stroke="#1c1c1c" stroke-width="0.22" >-</text>
<text x="515.65" y="292.40" font-size="6.0" text-anchor="middle" font-weight="normal" font-style="normal" fill="#1c1c1c" stroke="#1c1c1c" stroke-width="0.22" >N</text>
<line x1="467.7" y1="294.3" x2="482.3" y2="294.3" stroke="#444" stroke-width="0.75"/>
<text x="474.60" y="301.10" font-size="6.0" text-anchor="middle" font-weight="normal" font-style="normal" fill="#1c1c1c" stroke="#1c1c1c" stroke-width="0.22" >A549</text>
<line x1="483.8" y1="294.3" x2="499.2" y2="294.3" stroke="#444" stroke-width="0.75"/>
<text x="491.50" y="301.10" font-size="6.0" text-anchor="middle" font-weight="normal" font-style="normal" fill="#1c1c1c" stroke="#1c1c1c" stroke-width="0.22" >H460</text>
<line x1="500.0" y1="294.3" x2="517.7" y2="294.3" stroke="#444" stroke-width="0.75"/>
<text x="509.80" y="301.10" font-size="6.0" text-anchor="middle" font-weight="normal" font-style="normal" fill="#1c1c1c" stroke="#1c1c1c" stroke-width="0.22" >H1299</text>
<text x="515.40" y="237.20" font-size="7.2" text-anchor="middle" font-weight="bold" font-style="normal" fill="#1c1c1c" stroke="#1c1c1c" stroke-width="0.22" >*</text>
</svg></body></html>
